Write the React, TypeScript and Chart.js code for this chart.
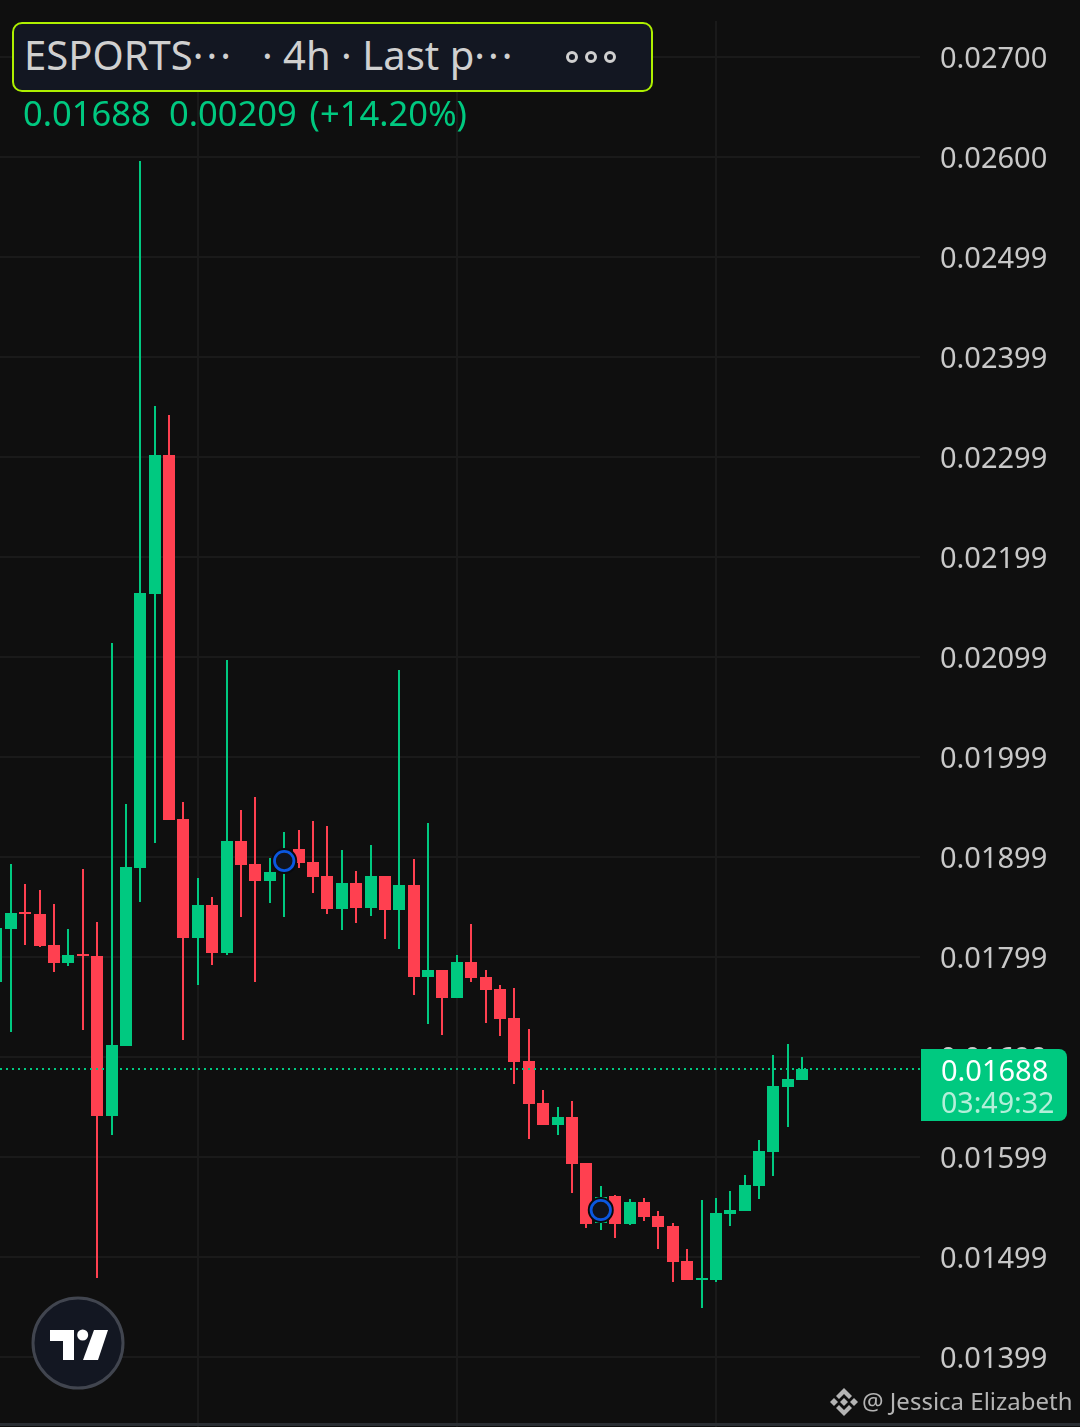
import React, { useEffect, useRef } from "react";
import { Chart, registerables } from "chart.js";

Chart.register(...registerables);

const opens = [0.017743,0.018273,0.018443,0.018423,0.018113,0.017933,0.018023,0.018003,0.016402,0.017102,0.018884,0.021626,0.023017,0.019374,0.018183,0.018513,0.018033,0.019154,0.018924,0.018754,0.018884,0.019074,0.018944,0.018804,0.018473,0.018734,0.018483,0.018804,0.018463,0.018714,0.017793,0.017863,0.017583,0.017943,0.017793,0.017673,0.017383,0.016952,0.016532,0.016312,0.016392,0.015932,0.015331,0.015601,0.015321,0.015541,0.015401,0.015301,0.014951,0.014761,0.014761,0.015421,0.015451,0.015701,0.016042,0.016692,0.016762];
const highs = [0.018283,0.018924,0.018724,0.018664,0.018523,0.018273,0.018874,0.018343,0.021136,0.019524,0.025959,0.023507,0.023417,0.019544,0.018784,0.018594,0.020965,0.019464,0.019594,0.018984,0.019244,0.019264,0.019354,0.019304,0.019064,0.018854,0.019114,0.018804,0.020865,0.018974,0.019334,0.017863,0.018013,0.018323,0.017863,0.017713,0.017683,0.017273,0.016662,0.016492,0.016552,0.015932,0.015701,0.015611,0.015571,0.015581,0.015451,0.015331,0.015071,0.015561,0.015581,0.015651,0.015811,0.016162,0.017012,0.017122,0.016992];
const lows = [0.017743,0.017243,0.018113,0.018093,0.017843,0.017903,0.017263,0.014781,0.016212,0.017102,0.018543,0.019134,0.019364,0.017162,0.017713,0.017913,0.018013,0.018393,0.017743,0.018533,0.018393,0.018884,0.018634,0.018423,0.018263,0.018333,0.018403,0.018173,0.018073,0.017613,0.017323,0.017212,0.017583,0.017743,0.017333,0.017202,0.016722,0.016172,0.016312,0.016212,0.015631,0.015281,0.015261,0.015181,0.015311,0.015351,0.015071,0.014741,0.014761,0.014480,0.014741,0.015301,0.015451,0.015571,0.015801,0.016292,0.016762];
const closes = [0.018283,0.018433,0.018423,0.018103,0.017933,0.018013,0.018003,0.016402,0.017112,0.018894,0.021636,0.023017,0.019364,0.018183,0.018513,0.018033,0.019154,0.018914,0.018754,0.018844,0.019004,0.018934,0.018794,0.018473,0.018734,0.018483,0.018804,0.018463,0.018714,0.017793,0.017863,0.017583,0.017943,0.017783,0.017663,0.017373,0.016942,0.016522,0.016312,0.016392,0.015922,0.015321,0.015591,0.015321,0.015541,0.015391,0.015291,0.014941,0.014761,0.014781,0.015431,0.015461,0.015711,0.016052,0.016702,0.016772,0.016872];

const markerIndexes = [20, 42];
const markerPrices = [0.018954, 0.015461];
const lastPrice = 0.016872;

const tickValues = [0.027,0.025999,0.024998,0.023998,0.022997,0.021996,0.020995,0.019995,0.018994,0.017993,0.016992,0.015992,0.014991,0.01399];
const tickLabels = ["0.02700","0.02600","0.02499","0.02399","0.02299","0.02199","0.02099","0.01999","0.01899","0.01799","0.01699","0.01599","0.01499","0.01399"];
const timeGridIndexes = [14, 32, 50];

const GREEN = "#00c980";
const RED = "#ff4050";
const FONT = '"Noto Sans", sans-serif';

const X_MIN = 0.2502;
const X_MAX = 64.184;
const Y_MIN = 0.0132894;
const Y_MAX = 0.0275704;

// Snaps the candles the library has laid out onto whole device pixels, as a trading chart does.
const snapBars = {
  id: "snapBars",
  beforeDatasetsDraw(chart: any) {
    chart.getSortedVisibleDatasetMetas().forEach((meta: any) => {
      if (meta.type !== "bar") return;
      meta.data.forEach((el: any) => {
        el.x = Math.round(el.x);
        el.y = Math.round(el.y);
        el.base = Math.round(el.base);
      });
    });
  },
};

export default function App() {
  const ref = useRef<HTMLCanvasElement | null>(null);
  useEffect(() => {
    document.body.style.margin = "0";
    document.body.style.background = "#0f0f0f";
    const canvas = ref.current;
    if (!canvas) return;
    const colors = opens.map((o, i) => (closes[i] >= o ? GREEN : RED));
    const markers = markerIndexes.map((x, i) => ({ x, y: markerPrices[i] }));
    const chart = new Chart(canvas, {
      type: "bar",
      plugins: [snapBars],
      data: {
        datasets: [
          {
            type: "line",
            data: markers,
            showLine: false,
            pointRadius: 9.7,
            pointBorderWidth: 2.8,
            pointBorderColor: "#0b57e0",
            pointBackgroundColor: "#10131c",
            order: -2,
          },
          {
            type: "line",
            data: markers,
            showLine: false,
            pointRadius: 13,
            pointBorderWidth: 0,
            pointBackgroundColor: "#0a0a0c",
            order: -1,
          },
          {
            type: "line",
            data: [
              { x: X_MIN, y: lastPrice },
              { x: X_MAX, y: lastPrice },
            ],
            borderColor: GREEN,
            borderWidth: 2,
            borderDash: [2, 4],
            pointRadius: 0,
            order: 0,
          },
          {
            type: "bar",
            data: opens.map((o, i) => ({ x: i, y: [o, closes[i]] })),
            backgroundColor: colors,
            barThickness: 12,
            grouped: false,
            borderWidth: 0,
            inflateAmount: 0,
            borderSkipped: false,
            order: 1,
          },
          {
            type: "bar",
            data: highs.map((h, i) => ({ x: i, y: [lows[i], h] })),
            backgroundColor: colors,
            barThickness: 2,
            grouped: false,
            borderWidth: 0,
            inflateAmount: 0,
            borderSkipped: false,
            order: 2,
          },
        ],
      } as any,
      options: {
        responsive: false,
        animation: false,
        devicePixelRatio: 1,
        layout: { padding: 0, autoPadding: false },
        plugins: { legend: { display: false }, tooltip: { enabled: false } },
        scales: {
          x: {
            type: "linear",
            offset: false,
            min: X_MIN,
            max: X_MAX,
            afterBuildTicks: (axis: any) => {
              axis.ticks = timeGridIndexes.map((value) => ({ value }));
            },
            ticks: { display: false },
            border: { display: false },
            grid: { offset: false, color: "#1a1a1a", lineWidth: 2, drawTicks: false },
          },
          y: {
            position: "right",
            min: Y_MIN,
            max: Y_MAX,
            afterBuildTicks: (axis: any) => {
              axis.ticks = tickValues.map((value) => ({ value }));
            },
            afterFit: (axis: any) => {
              axis.width = 160;
              axis.paddingTop = 0;
              axis.paddingBottom = 0;
            },
            ticks: {
              autoSkip: false,
              padding: 20,
              color: "#c8c8c8",
              font: { family: "Noto Sans", size: 29, lineHeight: "6px" },
              callback: (_v: any, i: number) => ["", tickLabels[i]],
            },
            border: { display: false },
            grid: { color: "#1a1a1a", lineWidth: 2, drawTicks: false },
          },
        },
      } as any,
    });
    return () => chart.destroy();
  }, []);

  const abs = (s: React.CSSProperties): React.CSSProperties => ({ position: "absolute", whiteSpace: "nowrap", ...s });
  const dot = (left: number) => (
    <div style={abs({ left, top: 51, width: 12, height: 12, border: "3px solid #d0d0d0", borderRadius: "50%", boxSizing: "border-box" })} />
  );
  const more = <span style={{ letterSpacing: 3 }}>···</span>;

  return (
    <div style={abs({ left: 0, top: 0, width: 1080, height: 1427, overflow: "hidden", background: "#0f0f0f", fontFamily: FONT })}>
      <canvas ref={ref} width={1080} height={1427} style={abs({ left: 0, top: 0, display: "block" })} />
      <div style={abs({ left: 0, top: 0, width: 920, height: 21, background: "#0f0f0f" })} />

      <div style={abs({ left: 12, top: 22, width: 641, height: 70, boxSizing: "border-box", background: "#131722", border: "2px solid #aef000", borderRadius: 10 })} />
      <div style={abs({ left: 24, top: 28, fontSize: 40, lineHeight: "54px", color: "#d0d0d0" })}>ESPORTS{more}</div>
      <div style={abs({ left: 262, top: 28, fontSize: 40, lineHeight: "54px", color: "#d0d0d0" })}>· 4h · Last p{more}</div>
      {dot(566)}
      {dot(585)}
      {dot(604)}
      <div style={abs({ left: 23, top: 90, fontSize: 34.5, lineHeight: "46px", color: GREEN })}>0.01688</div>
      <div style={abs({ left: 169, top: 90, fontSize: 34.5, wordSpacing: 4, lineHeight: "46px", color: GREEN })}>0.00209 (+14.20%)</div>

      <div style={abs({ left: 921, top: 1049, width: 146, height: 72, background: GREEN, borderRadius: "0 8px 8px 0" })} />
      <div style={abs({ left: 941, top: 1050, fontSize: 29, lineHeight: "40px", color: "#ffffff" })}>0.01688</div>
      <div style={abs({ left: 941, top: 1082, fontSize: 28.6, lineHeight: "40px", color: "rgba(255,255,255,0.7)" })}>03:49:32</div>

      <svg width={100} height={100} style={abs({ left: 28, top: 1293 })} viewBox="28 1293 100 100">
        <circle cx={78} cy={1343} r={45} fill="#131722" stroke="#41454f" strokeWidth={3} />
        <polygon points="50,1330 74,1330 74,1360 63,1360 63,1341 50,1341" fill="#ffffff" />
        <circle cx={82.7} cy={1335} r={5.5} fill="#ffffff" />
        <polygon points="94,1330 108,1330 98,1360 83,1360" fill="#ffffff" />
      </svg>

      <svg width={30} height={30} style={abs({ left: 829, top: 1387 })} viewBox="0 0 30 30" fill="#b4b4b4">
        <polygon points="15,1 23,9 20,12 15,7 10,12 7,9" />
        <polygon points="15,29 7,21 10,18 15,23 20,18 23,21" />
        <polygon points="5,11 9,15 5,19 1,15" />
        <polygon points="25,11 29,15 25,19 21,15" />
        <polygon points="15,11 19,15 15,19 11,15" />
      </svg>
      <div style={abs({ left: 862, top: 1384, fontSize: 24, lineHeight: "34px", color: "#b4b4b4" })}>@ Jessica Elizabeth</div>

      <div style={abs({ left: 0, top: 1423, width: 1080, height: 3, background: "#2a2e33" })} />
    </div>
  );
}
